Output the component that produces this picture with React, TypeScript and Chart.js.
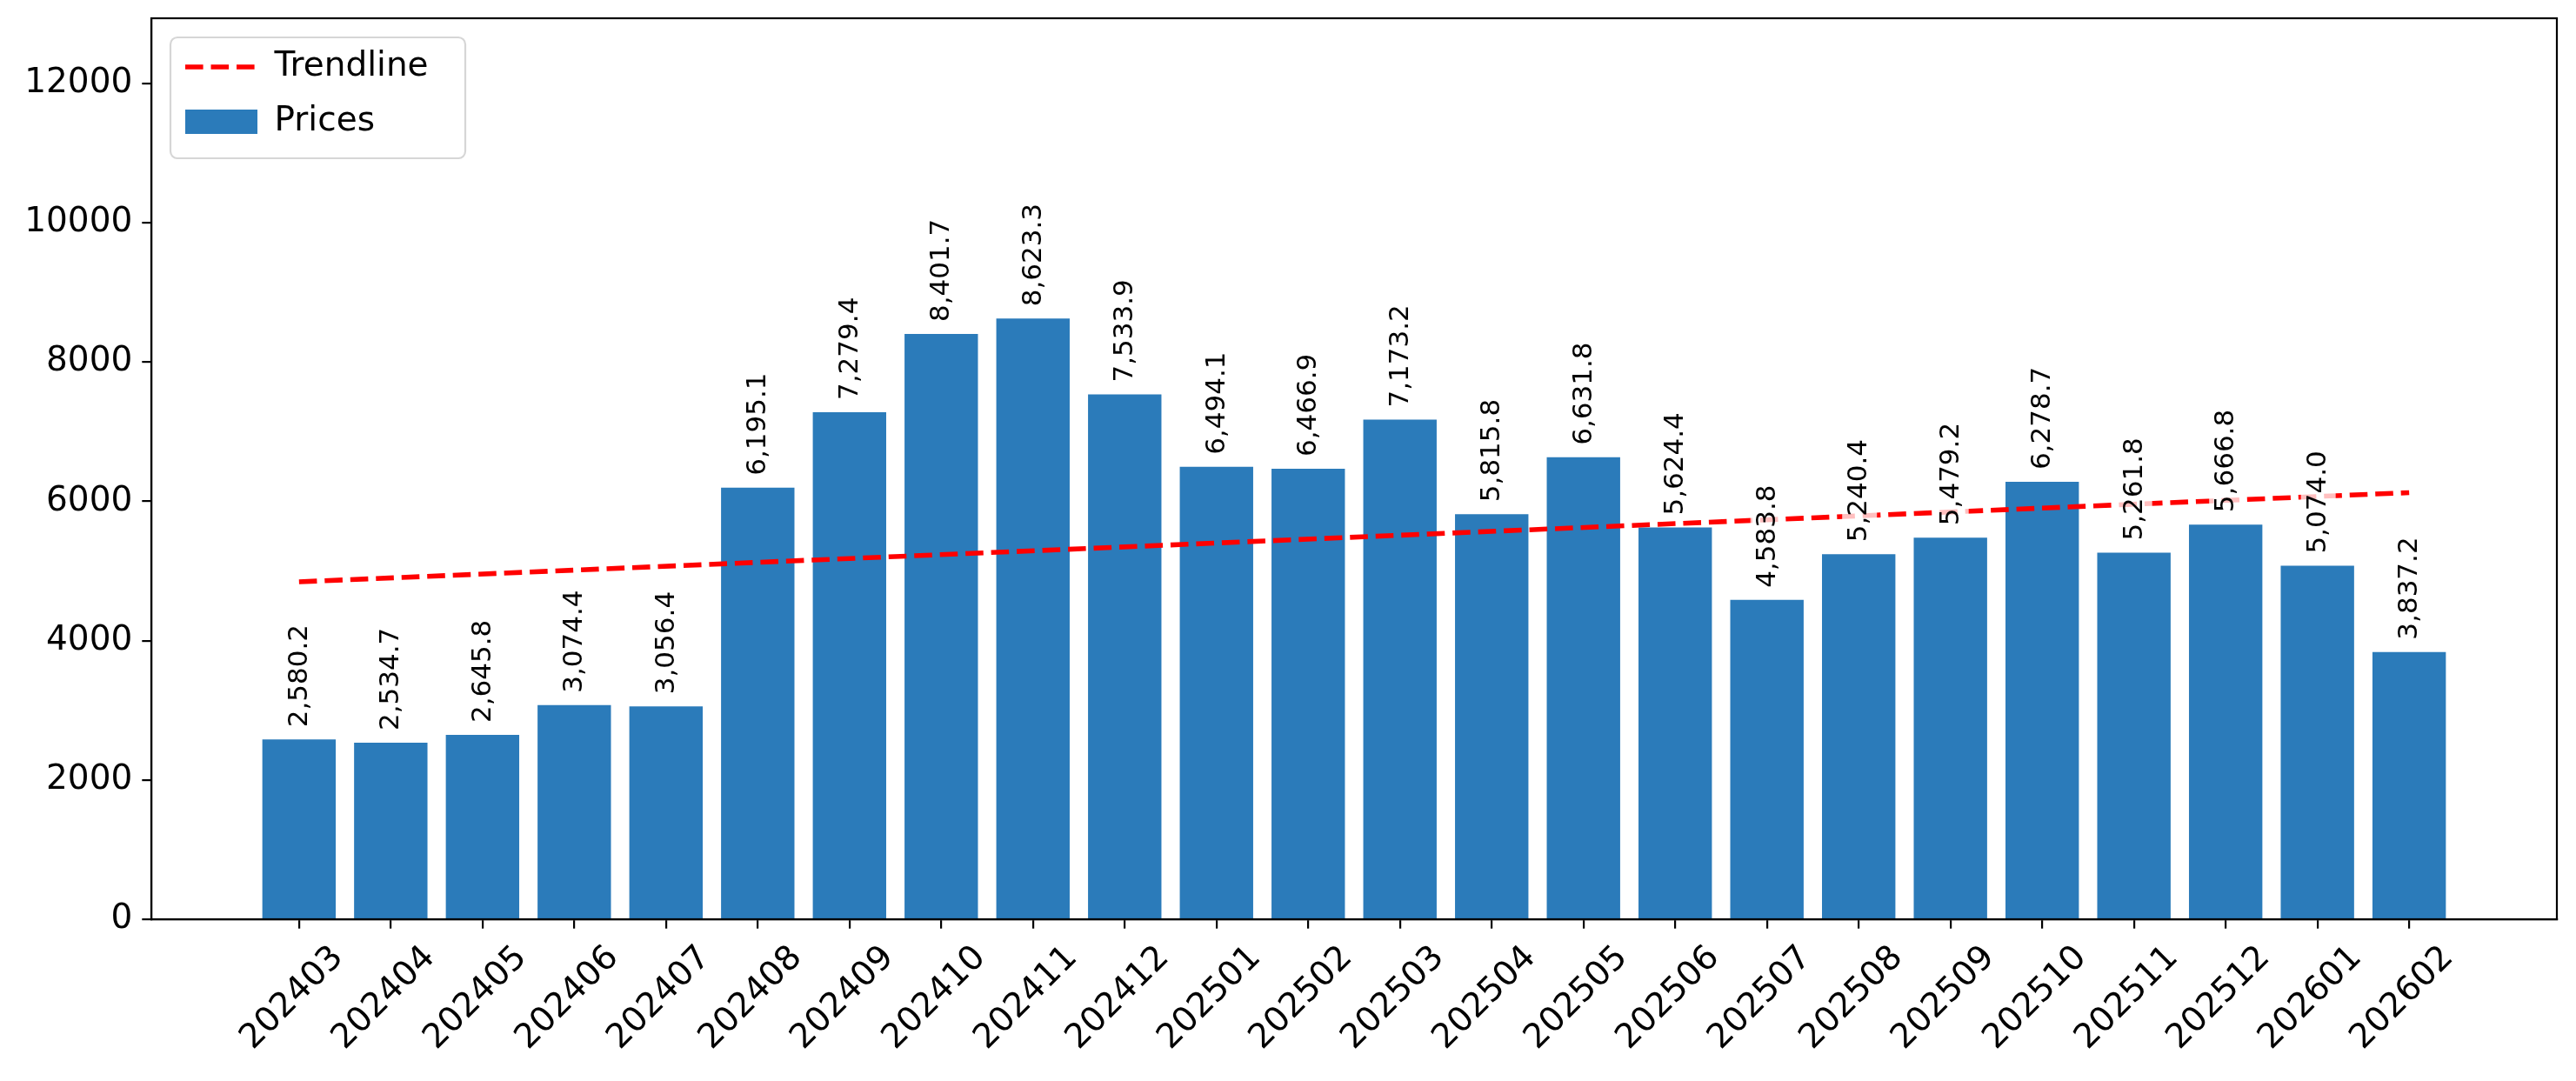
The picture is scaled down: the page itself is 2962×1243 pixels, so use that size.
import React, { useEffect, useRef } from "react";
import { Chart, registerables } from "chart.js";

Chart.register(...registerables);

const months = [
	"202403", "202404", "202405", "202406", "202407", "202408",
	"202409", "202410", "202411", "202412", "202501", "202502",
	"202503", "202504", "202505", "202506", "202507", "202508",
	"202509", "202510", "202511", "202512", "202601", "202602",
];

const prices = [
	2580.2, 2534.7, 2645.8, 3074.4, 3056.4, 6195.1,
	7279.4, 8401.7, 8623.3, 7533.9, 6494.1, 6466.9,
	7173.2, 5815.8, 6631.8, 5624.4, 4583.8, 5240.4,
	5479.2, 6278.7, 5261.8, 5666.8, 5074.0, 3837.2,
];

// trendline at the first and last month
const trendEnds = [4845, 6125];

const yTicks = [0, 2000, 4000, 6000, 8000, 10000, 12000];
const yMax = 12935;

const FONT = "'DejaVu Sans', sans-serif";
const BAR_COLOR = "#2b7bba";
const TREND_COLOR = "#ff0000";
const DASH = [20.6, 8.9];

const fmt = (v: number) =>
	v.toLocaleString("en-US", { minimumFractionDigits: 1, maximumFractionDigits: 1 });

// value labels above each bar, rotated, with a faint white box behind
const barLabels = {
	id: "barLabels",
	afterDatasetsDraw(chart: any) {
		const ctx = chart.ctx;
		const idx = chart.data.datasets.findIndex((d: any) => d.label === "Prices");
		const meta = chart.getDatasetMeta(idx);
		ctx.save();
		ctx.font = `31px ${FONT}`;
		meta.data.forEach((bar: any, i: number) => {
			const text = fmt(prices[i]);
			const w = ctx.measureText(text).width;
			ctx.save();
			ctx.translate(bar.x + 1, bar.y - 14);
			ctx.rotate(-Math.PI / 2);
			ctx.fillStyle = "rgba(255,255,255,0.75)";
			ctx.fillRect(-4, -20, w + 8, 40);
			ctx.fillStyle = "#000";
			ctx.textAlign = "left";
			ctx.textBaseline = "middle";
			ctx.fillText(text, 0, 0);
			ctx.restore();
		});
		ctx.restore();
	},
};

// top/right spines and the legend frame
const frame = {
	id: "frame",
	afterLayout(chart: any) {
		const lg = chart.legend;
		if (lg) {
			lg.left = chart.chartArea.left + 15;
			lg.top = chart.chartArea.top + 12.5;
		}
	},
	beforeDraw(chart: any) {
		const lg = chart.legend;
		if (!lg) return;
		const ctx = chart.ctx;
		const x = lg.left + 7;
		const y = lg.top + 9.5;
		ctx.save();
		ctx.beginPath();
		ctx.roundRect(x, y, 339, 139, 8);
		ctx.fillStyle = "rgba(255,255,255,0.8)";
		ctx.fill();
		ctx.strokeStyle = "#d6d6d6";
		ctx.lineWidth = 2.2;
		ctx.stroke();
		ctx.restore();
	},
	afterDraw(chart: any) {
		const { left, top, right, bottom } = chart.chartArea;
		const ctx = chart.ctx;
		ctx.save();
		ctx.strokeStyle = "#000";
		ctx.lineWidth = 2.2;
		ctx.strokeRect(left, top, right - left, bottom - top);
		ctx.restore();
	},
};

const App: React.FC = () => {
	const chartRef = useRef<HTMLCanvasElement>(null);
	const chartInstance = useRef<Chart | null>(null);

	useEffect(() => {
		if (!chartRef.current) return;
		if (chartInstance.current) chartInstance.current.destroy();
		const ctx = chartRef.current.getContext("2d");
		if (!ctx) return;

		chartInstance.current = new Chart(ctx, {
			type: "bar",
			data: {
				datasets: [
					{
						type: "line",
						label: "Trendline",
						data: [
							{ x: 0, y: trendEnds[0] },
							{ x: months.length - 1, y: trendEnds[1] },
						],
						borderColor: TREND_COLOR,
						borderWidth: 5.6,
						borderDash: DASH,
						pointRadius: 0,
						fill: false,
						order: 0,
					} as any,
					{
						type: "bar",
						label: "Prices",
						data: prices.map((v, i) => ({ x: i, y: v })),
						backgroundColor: BAR_COLOR,
						borderWidth: 0,
						barPercentage: 0.8,
						categoryPercentage: 1,
						order: 1,
					} as any,
				],
			},
			options: {
				responsive: false,
				devicePixelRatio: 1,
				animation: false,
				layout: { padding: { left: 0, top: 21, right: 22, bottom: 0 } },
				plugins: {
					tooltip: { enabled: false },
					legend: {
						position: "chartArea",
						align: "start",
						labels: {
							usePointStyle: true,
							pointStyleWidth: 83,
							boxWidth: 83,
							boxHeight: 28,
							padding: 24,
							color: "#000",
							font: { size: 39, family: FONT },
							generateLabels: (chart: any) =>
								chart.data.datasets.map((ds: any, i: number) => {
									const line = ds.type === "line";
									return {
										text: ds.label,
										datasetIndex: i,
										fillStyle: line ? "rgba(0,0,0,0)" : BAR_COLOR,
										strokeStyle: line ? TREND_COLOR : BAR_COLOR,
										lineWidth: line ? 5.6 : 0,
										lineDash: line ? DASH : [],
										pointStyle: line ? "line" : "rect",
										hidden: false,
										fontColor: "#000",
									};
								}),
						},
					},
				},
				scales: {
					x: {
						type: "linear",
						min: -1.61,
						max: months.length - 1 + 1.61,
						offset: false,
						afterBuildTicks: (axis: any) => {
							axis.ticks = months.map((_, i) => ({ value: i }));
						},
						afterFit: (s: any) => {
							s.height = 186;
							s.paddingLeft = 0;
							s.paddingRight = 0;
						},
						ticks: {
							autoSkip: false,
							minRotation: 45,
							maxRotation: 45,
							padding: 11,
							labelOffset: 45,
							color: "#000",
							font: { size: 39, family: FONT },
							callback: (v: any) => months[v] ?? "",
						},
						grid: {
							offset: false,
							drawOnChartArea: false,
							drawTicks: true,
							tickLength: 10.7,
							color: "#000",
							lineWidth: 2.2,
						},
						border: { display: true, color: "#000", width: 2.2 },
					},
					y: {
						min: 0,
						max: yMax,
						afterBuildTicks: (axis: any) => {
							axis.ticks = yTicks.map((v) => ({ value: v }));
						},
						afterFit: (s: any) => {
							s.width = 174;
							s.paddingTop = 0;
							s.paddingBottom = 0;
						},
						ticks: {
							padding: 11,
							color: "#000",
							font: { size: 39, family: FONT },
							callback: (v: any) => String(v),
						},
						grid: {
							drawOnChartArea: false,
							drawTicks: true,
							tickLength: 10.7,
							color: "#000",
							lineWidth: 2.2,
						},
						border: { display: true, color: "#000", width: 2.2 },
					},
				},
			},
			plugins: [barLabels, frame],
		});

		return () => {
			if (chartInstance.current) {
				chartInstance.current.destroy();
				chartInstance.current = null;
			}
		};
	}, []);

	return (
		<div style={{ position: "fixed", left: 0, top: 0, width: 2962, height: 1243, background: "#fff" }}>
			<canvas ref={chartRef} width={2962} height={1243}></canvas>
		</div>
	);
};

export default App;
